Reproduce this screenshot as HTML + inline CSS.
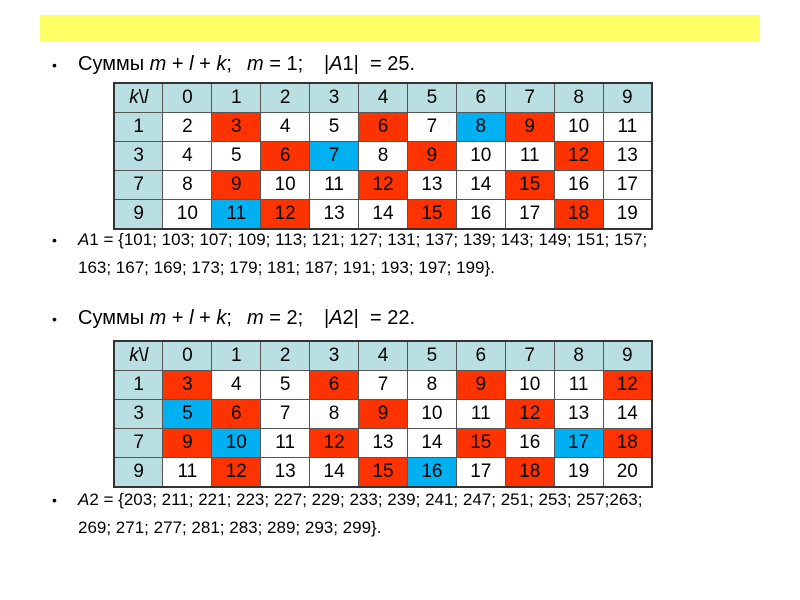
<!DOCTYPE html>
<html><head><meta charset="utf-8"><style>
body{margin:0;width:800px;height:600px;background:#fff;position:relative;overflow:hidden;font-family:"Liberation Sans",Arial,sans-serif;color:#000}
.bar{position:absolute;left:40px;top:15px;width:720px;height:26px;background:#ffff66}
.t{position:absolute;font-size:17px;white-space:nowrap;line-height:20px}
.h2{font-size:20px;line-height:22px}
.b{position:absolute;font-size:14px;left:52px}
table{position:absolute;border-collapse:collapse;border:2px solid #333;left:113px;width:540px;table-layout:fixed}
td{border:1px solid #555;height:28px;padding:0;text-align:center;font-size:19px;line-height:20px;background:#fff}
td.h{background:#b9dfe3}
td.r{background:#ff3300}
td.c{background:#00b0f0}
</style></head><body>
<div class="bar"></div>
<div class="b" style="top:57px">•</div>
<div class="t h2" style="left:78px;top:53px">Суммы <i>m</i> + <i>l</i> + <i>k</i>;</div>
<div class="t h2" style="left:247px;top:53px"><i>m</i> = 1;</div>
<div class="t h2" style="left:324px;top:53px">|<i>A</i>1|&nbsp; = 25.</div>
<div class="b" style="top:232px">•</div>
<div class="t" style="left:78px;top:230px"><i>A</i>1 = {101; 103; 107; 109; 113; 121; 127; 131; 137; 139; 143; 149; 151; 157;</div>
<div class="t" style="left:78px;top:258px">163; 167; 169; 173; 179; 181; 187; 191; 193; 197; 199}.</div>
<table style="top:82px">
<tr><td class="h"><i>k</i>\<i>l</i></td><td class="h">0</td><td class="h">1</td><td class="h">2</td><td class="h">3</td><td class="h">4</td><td class="h">5</td><td class="h">6</td><td class="h">7</td><td class="h">8</td><td class="h">9</td></tr>
<tr><td class="h">1</td><td>2</td><td class="r">3</td><td>4</td><td>5</td><td class="r">6</td><td>7</td><td class="c">8</td><td class="r">9</td><td>10</td><td>11</td></tr>
<tr><td class="h">3</td><td>4</td><td>5</td><td class="r">6</td><td class="c">7</td><td>8</td><td class="r">9</td><td>10</td><td>11</td><td class="r">12</td><td>13</td></tr>
<tr><td class="h">7</td><td>8</td><td class="r">9</td><td>10</td><td>11</td><td class="r">12</td><td>13</td><td>14</td><td class="r">15</td><td>16</td><td>17</td></tr>
<tr><td class="h">9</td><td>10</td><td class="c">11</td><td class="r">12</td><td>13</td><td>14</td><td class="r">15</td><td>16</td><td>17</td><td class="r">18</td><td>19</td></tr>
</table>
<div class="b" style="top:311px">•</div>
<div class="t h2" style="left:78px;top:307px">Суммы <i>m</i> + <i>l</i> + <i>k</i>;</div>
<div class="t h2" style="left:247px;top:307px"><i>m</i> = 2;</div>
<div class="t h2" style="left:324px;top:307px">|<i>A</i>2|&nbsp; = 22.</div>
<div class="b" style="top:492px">•</div>
<div class="t" style="left:78px;top:490px"><i>A</i>2 = {203; 211; 221; 223; 227; 229; 233; 239; 241; 247; 251; 253; 257;263;</div>
<div class="t" style="left:78px;top:518px">269; 271; 277; 281; 283; 289; 293; 299}.</div>
<table style="top:340px">
<tr><td class="h"><i>k</i>\<i>l</i></td><td class="h">0</td><td class="h">1</td><td class="h">2</td><td class="h">3</td><td class="h">4</td><td class="h">5</td><td class="h">6</td><td class="h">7</td><td class="h">8</td><td class="h">9</td></tr>
<tr><td class="h">1</td><td class="r">3</td><td>4</td><td>5</td><td class="r">6</td><td>7</td><td>8</td><td class="r">9</td><td>10</td><td>11</td><td class="r">12</td></tr>
<tr><td class="h">3</td><td class="c">5</td><td class="r">6</td><td>7</td><td>8</td><td class="r">9</td><td>10</td><td>11</td><td class="r">12</td><td>13</td><td>14</td></tr>
<tr><td class="h">7</td><td class="r">9</td><td class="c">10</td><td>11</td><td class="r">12</td><td>13</td><td>14</td><td class="r">15</td><td>16</td><td class="c">17</td><td class="r">18</td></tr>
<tr><td class="h">9</td><td>11</td><td class="r">12</td><td>13</td><td>14</td><td class="r">15</td><td class="c">16</td><td>17</td><td class="r">18</td><td>19</td><td>20</td></tr>
</table>
</body></html>
